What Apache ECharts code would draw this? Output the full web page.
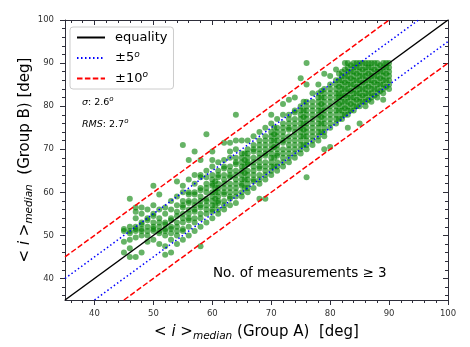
<!DOCTYPE html>
<html>
<head>
<meta charset="utf-8">
<script src="https://cdn.jsdelivr.net/npm/echarts@6/dist/echarts.min.js"></script>
<style>
  html, body { margin: 0; padding: 0; background: #fff; }
  #chart { width: 470px; height: 347px; }
</style>
</head>
<body>
<div id="chart"></div>
<script>
// Axis range and tick positions (degrees)
const axisMin = 35;
const axisMax = 100;
const majorTicks = [40, 50, 60, 70, 80, 90, 100];
const minorTicks = [36, 38, 42, 44, 46, 48, 52, 54, 56, 58, 62, 64, 66, 68,
                    72, 74, 76, 78, 82, 84, 86, 88, 92, 94, 96, 98];

// Offsets of the reference lines from equality (degrees)
const offsetsFive = [5, -5];
const offsetsTen = [10, -10];

// Inclination pairs: each row is [Group A value, Group B values...]
const rows45to54 = [
  [45, 46, 48.5, 51, 51.5],
  [46, 45, 47, 49, 50.5, 51, 52, 58.5],
  [47, 45, 49.5, 51, 51.5, 52, 54, 55.5, 56.5],
  [48, 46, 50, 51, 51.5, 52.5, 53, 55, 56.5],
  [49, 48.5, 50, 51, 52, 53.5, 54, 56],
  [50, 49, 51, 51.5, 52, 53, 54.5, 55, 57, 61.5],
  [51, 48, 50.5, 51, 52, 53, 54, 56, 59.5],
  [52, 45.5, 47.5, 50, 51, 51.5, 52.5, 53, 55, 56.5],
  [53, 46, 49, 50.5, 51.5, 52, 53.5, 54, 56, 58],
  [54, 48, 50, 51, 52, 53, 54.5, 55.5, 57, 59, 62.5]
];
const rows55to64 = [
  [55, 49, 51, 51.5, 53, 54, 55, 56.5, 57, 58, 60, 61.5, 71],
  [56, 50, 52, 53.5, 54, 55, 56, 57.5, 58, 59.5, 60, 63, 67.5],
  [57, 51, 53, 54, 55.5, 56, 57, 58, 59.5, 60, 62, 64, 69.5],
  [58, 47.5, 52, 54, 55, 56.5, 57, 58, 59, 60.5, 61, 63.5, 64, 67.5],
  [59, 53, 55, 56, 57, 58, 58.5, 60, 61, 62, 63.5, 65, 73.5],
  [60, 54, 55.5, 56, 57, 58, 59, 60, 61.5, 62, 63, 64, 66, 67.5, 69.5],
  [60.5, 57, 58.5, 60, 61, 62.5],
  [61, 55, 56, 57.5, 58, 59, 60, 61, 62, 63.5, 64, 65, 67],
  [62, 56, 57, 58, 59.5, 60, 61, 62, 63, 64, 65.5, 66, 67.5, 71.5],
  [63, 57, 58.5, 59, 60, 61, 62, 63.5, 64, 65, 66, 68, 69.5, 71.5],
  [64, 57.5, 59, 60, 61, 62, 63, 64, 65, 66.5, 67, 68, 70, 72, 78]
];
const rows65to74 = [
  [65, 59, 60, 61.5, 62, 63, 64, 65, 66, 67, 68, 69, 72],
  [65.5, 61, 63, 64.5, 66, 67.5, 69],
  [66, 60, 61, 62, 63, 64, 65, 66.5, 67, 68, 69, 70, 72],
  [67, 61, 62.5, 63, 64, 65, 66, 67, 68, 69.5, 70, 71, 73],
  [68, 58.5, 62, 63, 64, 65.5, 66, 67, 68, 69, 70, 71, 72, 74],
  [69, 58.5, 63, 64, 65, 66, 67, 68.5, 69, 70, 71, 72, 73, 75],
  [70, 64, 65, 66, 67, 68, 69, 70, 71, 72, 73, 74, 76, 78],
  [70.5, 66, 68, 70.5, 72, 73.5, 75],
  [71, 65, 66, 67, 68.5, 69, 70, 71, 72, 73, 74, 75, 77],
  [72, 66, 67, 68, 69, 70, 71.5, 72, 73, 74, 75, 76, 78, 80.5],
  [73, 67, 68, 69, 70, 71, 72, 73, 74.5, 75, 76, 77, 78, 81.5],
  [74, 68, 69, 70, 71, 72, 73, 74, 75, 76, 77, 78.5, 79, 82]
];
const rows75to90 = [
  [75, 69, 70, 71, 72, 73, 74, 75, 76, 77, 78, 79, 80, 86.5],
  [75.5, 71, 73, 74.5, 76, 77.5, 79, 81],
  [76, 63.5, 70, 71, 72, 73, 74, 75, 76, 77, 78, 79, 80, 81, 85, 90],
  [77, 71, 72, 73, 74, 75, 76, 77, 78, 79, 80, 81, 83],
  [78, 72, 73, 74, 75, 76, 77, 78, 79, 80, 81, 82, 83, 85],
  [78.5, 74, 76, 77.5, 79, 80.5, 82, 83.5],
  [79, 70, 73, 74, 75, 76, 77, 78, 79, 80, 81, 82, 83, 84, 87.5],
  [80, 70.5, 75, 76, 77, 78, 79, 80, 81, 82, 83, 84, 85, 87],
  [81, 76, 77, 78, 79, 80, 81, 82, 83, 84, 85, 86, 88.5],
  [81.5, 77, 79, 80.5, 82, 83, 84.5, 86, 87.5],
  [82, 77, 78, 79, 80, 81, 82, 83, 84, 85, 86, 87, 88],
  [82.5, 78, 79.5, 81, 82.5, 84, 85.5, 87, 88.5, 90],
  [83, 75, 78, 79, 80, 81, 82, 83, 84, 85, 86, 87, 88, 89, 90],
  [83.5, 79, 80.5, 82, 83.5, 85, 86.5, 88, 89.5],
  [84, 79, 80, 81, 82, 83, 84, 85, 86, 87, 88, 89, 90],
  [84.5, 80, 81.5, 83, 84.5, 86, 87.5, 89, 90],
  [85, 76, 80, 81, 82, 83, 84, 85, 86, 87, 88, 89, 90],
  [85.5, 81, 82.5, 84, 85.5, 87, 88.5, 90],
  [86, 80, 81, 82, 83, 84, 85, 86, 87, 88, 89, 90],
  [86.5, 81.5, 83, 84.5, 86, 87.5, 89, 90],
  [87, 81, 82, 83, 84, 85, 86, 87, 88, 89, 90],
  [87.5, 82.5, 84, 85.5, 87, 88.5, 90],
  [88, 82, 83, 84, 85, 86, 87, 88, 89, 90],
  [88.5, 83.5, 85, 86.5, 88, 89.5],
  [89, 81.5, 83, 84, 85, 86, 87, 88, 89, 90],
  [89.5, 84.5, 86, 87.5, 89, 90],
  [90, 84, 85, 86, 87, 88, 89, 90]
];

function toPairs(rows) {
  const out = [];
  rows.forEach(function (row) {
    for (let k = 1; k < row.length; k++) out.push([row[0], row[k]]);
  });
  return out;
}
const points = [].concat(toPairs(rows45to54), toPairs(rows55to64),
                         toPairs(rows65to74), toPairs(rows75to90));

// Line y = x + d clipped to the axis box
function diagonal(d) {
  const a = Math.max(axisMin, axisMin - d);
  const b = Math.min(axisMax, axisMax - d);
  return [[a, a + d], [b, b + d]];
}

const FONT = 'DejaVu Sans';
const SPINE = '#2e2e3a';

function valueAxis(extra) {
  return Object.assign({
    type: 'value', min: axisMin, max: axisMax,
    splitLine: { show: false },
    axisLine: { show: false, lineStyle: { color: SPINE, width: 1 } },
    axisLabel: { show: false },
    axisTick: { show: true, lineStyle: { color: SPINE, width: 1 } }
  }, extra);
}

const nameRich = {
  n: { fontFamily: FONT, fontSize: 15, color: '#000', lineHeight: 20, verticalAlign: 'middle' },
  i: { fontFamily: FONT, fontSize: 15, fontStyle: 'italic', color: '#000', lineHeight: 20, verticalAlign: 'middle' },
  sub: { fontFamily: FONT, fontSize: 10.5, fontStyle: 'italic', color: '#000', lineHeight: 10, verticalAlign: 'bottom' }
};

const xAxes = [
  valueAxis({
    position: 'bottom',
    axisLine: { show: true, lineStyle: { color: SPINE, width: 1 } },
    axisTick: { show: true, length: 5, customValues: majorTicks, lineStyle: { color: SPINE } },
    axisLabel: { show: true, customValues: majorTicks, fontFamily: FONT, fontSize: 8.5, color: '#333', margin: 9 },
    name: '{n|< }{i|i}{n| >}{sub|median}{n| (Group A)  [deg]}',
    nameLocation: 'middle', nameGap: 22,
    nameTextStyle: { rich: nameRich }
  }),
  valueAxis({ position: 'bottom',
              axisTick: { show: true, length: 3, customValues: minorTicks, lineStyle: { color: SPINE } } }),
  valueAxis({ position: 'top', axisLine: { show: true, lineStyle: { color: SPINE, width: 1 } },
              axisTick: { show: true, inside: true, length: 5, customValues: majorTicks, lineStyle: { color: SPINE } } }),
  valueAxis({ position: 'top',
              axisTick: { show: true, inside: true, length: 3, customValues: minorTicks, lineStyle: { color: SPINE } } })
];

const yAxes = [
  valueAxis({
    position: 'left',
    axisLine: { show: true, lineStyle: { color: SPINE, width: 1 } },
    axisTick: { show: true, length: 5, customValues: majorTicks, lineStyle: { color: SPINE } },
    axisLabel: { show: true, customValues: majorTicks, fontFamily: FONT, fontSize: 8.5, color: '#333', margin: 11 },
    name: '{n|< }{i|i}{n| >}{sub|median}{n|  (Group B) [deg]}',
    nameLocation: 'middle', nameGap: 30, nameRotate: 90,
    nameMoveOverlap: false,
    nameTextStyle: { rich: nameRich }
  }),
  valueAxis({ position: 'left',
              axisTick: { show: true, length: 3, customValues: minorTicks, lineStyle: { color: SPINE } } }),
  valueAxis({ position: 'right', axisLine: { show: true, lineStyle: { color: SPINE, width: 1 } },
              axisTick: { show: true, inside: true, length: 5, customValues: majorTicks, lineStyle: { color: SPINE } } }),
  valueAxis({ position: 'right',
              axisTick: { show: true, inside: true, length: 3, customValues: minorTicks, lineStyle: { color: SPINE } } })
];

const series = [
  {
    type: 'scatter', name: 'measurements', data: points,
    xAxisIndex: 0, yAxisIndex: 0,
    symbolSize: 6,
    itemStyle: { color: '#008000', opacity: 0.6 },
    z: 2, silent: true
  },
  {
    type: 'line', name: 'equality', data: diagonal(0),
    symbol: 'none', itemStyle: { color: '#000000' },
    lineStyle: { color: '#000000', width: 1.5 }, z: 3
  }
];
offsetsFive.forEach(function (d) {
  series.push({
    type: 'line', name: '±5', data: diagonal(d), symbol: 'none',
    itemStyle: { color: '#0000ff' },
    lineStyle: { color: '#0000ff', width: 1.5, type: [1.5, 2.5] }, z: 3
  });
});
offsetsTen.forEach(function (d) {
  series.push({
    type: 'line', name: '±10', data: diagonal(d), symbol: 'none',
    itemStyle: { color: '#ff0000' },
    lineStyle: { color: '#ff0000', width: 1.5, type: [5.5, 2.4] }, z: 3
  });
});

const chart = echarts.init(document.getElementById('chart'), null, { renderer: 'canvas' });
chart.setOption({
  animation: false,
  backgroundColor: '#ffffff',
  grid: { left: 65, right: 22, top: 20, bottom: 47 },
  xAxis: xAxes,
  yAxis: yAxes,
  legend: {
    data: ['equality', '±5', '±10'],
    orient: 'vertical',
    left: 70, top: 27,
    itemWidth: 28, itemHeight: 14, itemGap: 6,
    padding: [4, 6, 4, 6],
    backgroundColor: 'rgba(255,255,255,0.85)',
    borderColor: '#cccccc', borderWidth: 1, borderRadius: 3,
    itemStyle: { opacity: 0 },
    formatter: function (name) {
      if (name === 'equality') return '{t|equality}';
      return '{t|' + name + '}{s|o}';
    },
    textStyle: {
      padding: [0, 0, 0, 5],
      rich: {
        t: { fontFamily: FONT, fontSize: 13, color: '#000', lineHeight: 16, verticalAlign: 'middle' },
        s: { fontFamily: FONT, fontSize: 9, fontStyle: 'italic', color: '#000', lineHeight: 9, verticalAlign: 'top' }
      }
    }
  },
  graphic: [
    {
      type: 'text', left: 82, top: 96,
      style: {
        text: '{i|σ}{n|: 2.6}{s|o}',
        rich: {
          i: { fontFamily: FONT, fontSize: 9.5, fontStyle: 'italic', fill: '#000', lineHeight: 13, verticalAlign: 'middle' },
          n: { fontFamily: FONT, fontSize: 9.5, fill: '#000', lineHeight: 13, verticalAlign: 'middle' },
          s: { fontFamily: FONT, fontSize: 7, fontStyle: 'italic', fill: '#000', lineHeight: 7, verticalAlign: 'top' }
        }
      }
    },
    {
      type: 'text', left: 82, top: 118,
      style: {
        text: '{i|RMS}{n|: 2.7}{s|o}',
        rich: {
          i: { fontFamily: FONT, fontSize: 9.5, fontStyle: 'italic', fill: '#000', lineHeight: 13, verticalAlign: 'middle' },
          n: { fontFamily: FONT, fontSize: 9.5, fill: '#000', lineHeight: 13, verticalAlign: 'middle' },
          s: { fontFamily: FONT, fontSize: 7, fontStyle: 'italic', fill: '#000', lineHeight: 7, verticalAlign: 'top' }
        }
      }
    },
    {
      type: 'text', left: 213, top: 266,
      style: { text: 'No. of measurements ≥ 3', fontFamily: FONT, fontSize: 13.5, fill: '#000' }
    }
  ],
  series: series
});
</script>
</body>
</html>
